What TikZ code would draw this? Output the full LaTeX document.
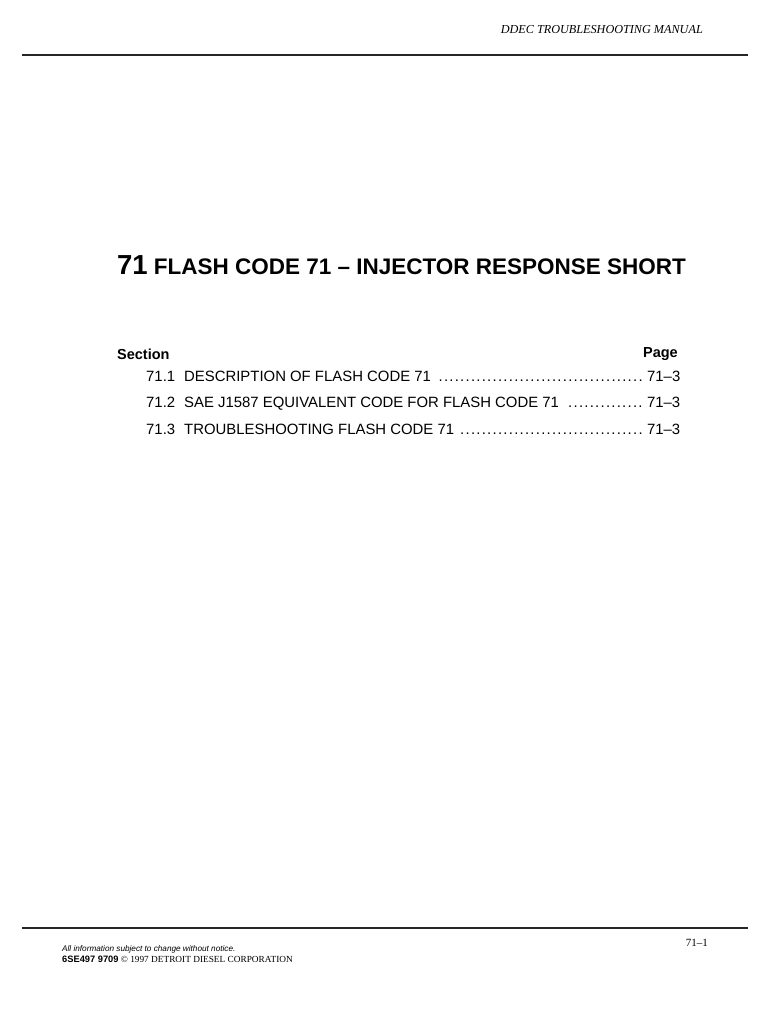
\documentclass[tikz,border=0pt]{standalone}
\usepackage{fontspec}
\setmainfont{Liberation Serif}
\setsansfont{Liberation Sans}
\newcommand{\mydots}{\leaders\hbox to 5.4pt{\hss.\hss}\hfill}
\begin{document}
\begin{tikzpicture}[x=1pt,y=-1pt,
  toc/.style={anchor=base west,inner sep=0pt,font=\sffamily\fontsize{14.9}{17}\selectfont},
  rule/.style={line width=2.6pt,black!85}]
\useasboundingbox (0,0) rectangle (768,1024);
\node[anchor=base east,inner sep=0pt,font=\itshape\fontsize{12.2}{14}\selectfont] (hdr) at (703,34) {DDEC TROUBLESHOOTING MANUAL};
\coordinate (r1a) at (22,55); \coordinate (r1b) at (748,55);
\draw[rule] (r1a) -- (r1b);
\node[anchor=base west,inner sep=0pt,font=\sffamily\bfseries\fontsize{22.5}{26}\selectfont] (title) at (117,274) {{\fontsize{27.5}{30}\selectfont 71}\hspace{6pt}FLASH CODE 71 -- INJECTOR RESPONSE SHORT};
\node[anchor=base west,inner sep=0pt,font=\sffamily\bfseries\fontsize{14.5}{16}\selectfont] (sec) at (117,359) {Section};
\node[anchor=base east,inner sep=0pt,font=\sffamily\bfseries\fontsize{14.5}{16}\selectfont] (pg) at (678,357) {Page};
\node[toc] (n1) at (146,381) {71.1};
\node[toc] (t1) at (184,381) {\hbox to 496pt{DESCRIPTION OF FLASH CODE 71\ \mydots\,71--3}};
\node[toc] (n2) at (146,407) {71.2};
\node[toc] (t2) at (184,407) {\hbox to 496pt{SAE J1587 EQUIVALENT CODE FOR FLASH CODE 71\ \mydots\,71--3}};
\node[toc] (n3) at (146,434) {71.3};
\node[toc] (t3) at (184,434) {\hbox to 496pt{TROUBLESHOOTING FLASH CODE 71\ \mydots\,71--3}};
\coordinate (r2a) at (22,928); \coordinate (r2b) at (748,928);
\draw[rule] (r2a) -- (r2b);
\node[anchor=base west,inner sep=0pt,font=\sffamily\itshape\fontsize{8.2}{9}\selectfont] (f1) at (62,951) {All information subject to change without notice.};
\node[anchor=base west,inner sep=0pt,font=\fontsize{9.3}{11}\selectfont] (f2) at (62,962) {{\sffamily\bfseries 6SE497 9709} \textcopyright\ 1997 DETROIT DIESEL CORPORATION};
\node[anchor=base east,inner sep=0pt,font=\fontsize{11}{13}\selectfont] (f3) at (708,946) {71--1};
\end{tikzpicture}
\end{document}
